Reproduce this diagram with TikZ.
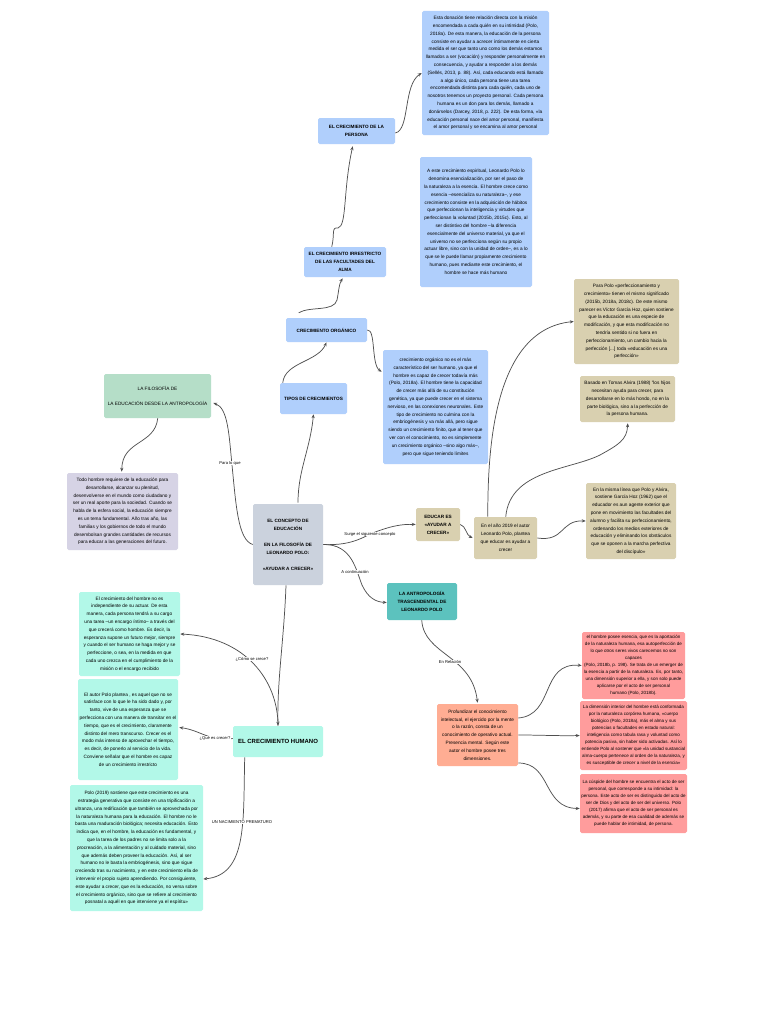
\documentclass[tikz,border=0pt]{standalone}
\usepackage{fontspec}
\setmainfont{Liberation Sans}
\usetikzlibrary{arrows.meta,calc}
\definecolor{cblue}{HTML}{B0CFFC}
\definecolor{ctan}{HTML}{D9D0B0}
\definecolor{cgrey}{HTML}{CBD2DD}
\definecolor{cteal}{HTML}{5CC2BE}
\definecolor{cgreen}{HTML}{B5DEC8}
\definecolor{clilac}{HTML}{D6D3E5}
\definecolor{caqua}{HTML}{B2F8E8}
\definecolor{cred}{HTML}{FF9C9C}
\definecolor{csalmon}{HTML}{FFAD93}
\definecolor{cline}{HTML}{505050}
\tikzset{
  bxbase/.style={rounded corners=1.2pt,inner sep=0pt,align=center,text=black},
  body/.style={bxbase,font=\fontsize{3.55}{5.85}\selectfont},
  redbody/.style={bxbase,fill=cred,font=\fontsize{3.4}{5.3}\selectfont},
  title/.style={bxbase,font=\fontsize{3.5}{6}\bfseries\selectfont},
  conn/.style={draw=cline,line width=0.55pt,-{Stealth[length=3pt,width=2.4pt]}},
  elabel/.style={fill=white,inner xsep=0.6pt,inner ysep=0.4pt,text=black,font=\fontsize{3.1}{4}\selectfont},
}
\newcommand{\bx}[7]{%
  \pgfmathsetlengthmacro{\bw}{(#4-#2)*0.75pt}%
  \pgfmathsetlengthmacro{\bh}{(#5-#3)*0.75pt}%
  \node[#6,minimum width=\bw,minimum height=\bh] (#1) at ({(#2+#4)/2},{(#3+#5)/2}) {#7};%
}
\begin{document}
\begin{tikzpicture}[x=0.75pt,y=-0.75pt]
\useasboundingbox (0,0) rectangle (768,1024);
\fill[white] (0,0) rectangle (768,1024);

\bx{big}{422}{11}{549}{135}{body,fill=cblue}{Esta donación tiene relación directa con la misión\\
encomendada a cada quién en su intimidad (Polo,\\
2018a). De esta manera, la educación de la persona\\
consiste en ayudar a acrecer íntimamente en cierta\\
medida el ser que tanto uno como los demás estamos\\
llamados a ser (vocación) y responder personalmente en\\
consecuencia, y ayudar a responder a los demás\\
(Sellés, 2013, p. 88). Así, cada educando está llamado\\
a algo único, cada persona tiene una tarea\\
encomendada distinta para cada quién, cada uno de\\
nosotros tenemos un proyecto personal. Cada persona\\
humana es un don para los demás, llamado a\\
donárselos (Darcey, 2018, p. 222). De esta forma, «la\\
educación personal nace del amor personal, manifiesta\\
el amor personal y se encamina al amor personal}
\bx{persona}{318}{118}{395}{144}{title,fill=cblue}{EL CRECIMIENTO DE LA\\PERSONA}
\bx{esp}{420}{157}{532}{287}{body,fill=cblue}{A este crecimiento espiritual, Leonardo Polo lo\\
denomina esencialización, por ser el paso de\\
la naturaleza a la esencia. El hombre crece como\\
esencia –esencializa su naturaleza–, y ese\\
crecimiento consiste en la adquisición de hábitos\\
que perfeccionan la inteligencia y virtudes que\\
perfeccionan la voluntad (2015b, 2015c). Esto, al\\
ser distintivo del hombre –la diferencia\\
esencialmente del universo material, ya que el\\
universo no se perfecciona según su propio\\
actuar libre, sino con la unidad de orden–, es a lo\\
que se le puede llamar propiamente crecimiento\\
humano, pues mediante este crecimiento, el\\
hombre se hace más humano}
\bx{alma}{304}{247}{386}{277}{title,fill=cblue}{EL CRECIMIENTO IRRESTRICTO\\DE LAS FACULTADES DEL\\ALMA}
\bx{org}{286}{318}{367}{342}{title,fill=cblue}{CRECIMIENTO ORGÁNICO}
\bx{tipos}{280}{383}{347}{414}{title,fill=cblue}{TIPOS DE CRECIMIENTOS}
\bx{orgtxt}{383}{350}{488}{464}{body,fill=cblue}{crecimiento orgánico no es el más\\
característico del ser humano, ya que el\\
hombre es capaz de crecer todavía más\\
(Polo, 2018a). El hombre tiene la capacidad\\
de crecer más allá de su constitución\\
genética, ya que puede crecer en el sistema\\
nervioso, en las conexiones neuronales. Este\\
tipo de crecimiento no culmina con la\\
embriogénesis y va más allá, pero sigue\\
siendo un crecimiento finito, que al tener que\\
ver con el conocimiento, no es simplemente\\
un crecimiento orgánico –sino algo más–,\\
pero que sigue teniendo límites}
\bx{tanA}{574}{279}{679}{364}{body,fill=ctan}{Para Polo «perfeccionamiento y\\
crecimiento» tienen el mismo significado\\
(2015b, 2018a, 2018c). De este mismo\\
parecer es Víctor García Hoz, quien sostiene\\
que la educación es una especie de\\
modificación, y que esta modificación no\\
tendría sentido si no fuera en\\
perfeccionamiento, un cambio hacia la\\
perfección [...] toda «educación es una\\
perfección»}
\bx{tanB}{580}{376}{675}{422}{body,fill=ctan}{Basado en Tomas Alvira (1988) "los hijos\\
necesitan ayuda para crecer, para\\
desarrollarse en lo más hondo, no en la\\
parte biológica, sino a la perfección de\\
la persona humana.}
\bx{anio}{474}{517}{537}{559}{body,fill=ctan}{En el año 2019 el autor\\
Leonardo Polo, plantea\\
que educar es ayudar a\\
crecer}
\bx{misma}{586}{483}{676}{559}{body,fill=ctan}{En la misma línea que Polo y Alvira,\\
sostiene García Hoz (1962) que el\\
educador es aun agente exterior que\\
pone en movimiento las facultades del\\
alumno y facilita su perfeccionamiento,\\
ordenando los medios exteriores de\\
educación y eliminando los obstáculos\\
que se oponen a la marcha perfectiva\\
del discípulo»}
\bx{educar}{416}{508}{460}{541}{title,fill=ctan}{EDUCAR ES\\«AYUDAR A\\CRECER»}
\bx{antro}{387}{583}{457}{620}{title,fill=cteal}{LA ANTROPOLOGÍA\\TRASCENDENTAL DE\\LEONARDO POLO}
\bx{concepto}{253}{504}{323}{585}{title,fill=cgrey}{EL CONCEPTO DE\\EDUCACIÓN\\[6pt]EN LA FILOSOFÍA DE\\LEONARDO POLO:\\[6pt]«AYUDAR A CRECER»}
\bx{filo}{104}{374}{211}{418}{body,fill=cgreen}{LA FILOSOFÍA DE\\[6pt]LA EDUCACIÓN DESDE LA ANTROPOLOGÍA}
\bx{lilac}{67}{473}{178}{550}{body,fill=clilac}{Todo hombre requiere de la educación para\\
desarrollarse, alcanzar su plenitud,\\
desenvolverse en el mundo como ciudadano y\\
ser un real aporte para la sociedad. Cuando se\\
habla de la esfera social, la educación siempre\\
es un tema fundamental. Año tras año, las\\
familias y los gobiernos de todo el mundo\\
desembolsan grandes cantidades de recursos\\
para educar a las generaciones del futuro.}
\bx{aquaA}{79}{592}{180}{676}{body,fill=caqua}{El crecimiento del hombre no es\\
independiente de su actuar. De esta\\
manera, cada persona tendrá a su cargo\\
una tarea –un encargo íntimo– a través del\\
que crecerá como hombre. Es decir, la\\
esperanza supone un futuro mejor, siempre\\
y cuando el ser humano se haga mejor y se\\
perfeccione, o sea, en la medida en que\\
cada uno crezca en el cumplimiento de la\\
misión o el encargo recibido}
\bx{aquaB}{78}{679}{178}{780}{body,fill=caqua}{El autor Polo plantea , es aquel que no se\\
satisface con lo que le ha sido dado y, por\\
tanto, vive de una esperanza que se\\
perfecciona con una manera de transitar en el\\
tiempo, que es el crecimiento, claramente\\
distinto del mero transcurso. Crecer es el\\
modo más intenso de aprovechar el tiempo,\\
es decir, de ponerlo al servicio de la vida.\\
Conviene señalar que el hombre es capaz\\
de un crecimiento irrestricto}
\bx{aquaC}{70}{785}{203}{911}{body,fill=caqua}{Polo (2019) sostiene que este crecimiento es una\\
estrategia generativa que consiste en una tripificación a\\
ultranza, una redificación que también se aprovechada por\\
la naturaleza humana para la educación. El hombre no le\\
basta una maduración biológica; necesita educación. Esto\\
indica que, en el hombre, la educación es fundamental, y\\
que la tarea de los padres no se limita solo a la\\
procreación, a la alimentación y al cuidado material, sino\\
que además deben proveer la educación. Así, al ser\\
humano no le basta la embriogénesis, sino que sigue\\
creciendo tras su nacimiento, y en este crecimiento ella de\\
intervenir el propio sujeto aprendiendo. Por consiguiente,\\
este ayudar a crecer, que es la educación, no versa sobre\\
el crecimiento orgánico, sino que se refiere al crecimiento\\
posnatal a aquél en que interviene ya el espíritu»}
\bx{human}{233}{726}{323}{757}{title,fill=caqua,font=\fontsize{4.5}{6}\bfseries\selectfont}{EL CRECIMIENTO HUMANO}
\bx{salmon}{437}{704}{518}{766}{body,fill=csalmon}{Profundizar el conocimiento\\
intelectual, el ejercido por la mente\\
o la razón, consta de un\\
conocimiento de operativo actual.\\
Presencia mental. Según este\\
autor el hombre posee tres\\
dimensiones.}
\bx{redA}{582}{632}{685}{699}{redbody}{el hombre posee esencia, que es la aportación\\
de la naturaleza humana, esa autoperfección de\\
lo que otros seres vivos carecemos no son\\
capaces\\
(Polo, 2018b, p. 198). Se trata de un emerger de\\
la esencia a partir de la naturaleza. Es, por tanto,\\
una dimensión superior a ella, y son solo puede\\
aplicarse por el acto de ser personal\\
humano (Polo, 2018b).}
\bx{redB}{580}{701}{687}{770}{redbody}{La dimensión interior del hombre está conformada\\
por la naturaleza corpórea humana, «cuerpo\\
biológico (Polo, 2018a), más el alma y sus\\
potencias o facultades en estado natural:\\
inteligencia como tabula rasa y voluntad como\\
potencia pasiva, sin haber sido activadas. Así lo\\
entiende Polo al sostener que «la unidad sustancial\\
alma-cuerpo pertenece al orden de la naturaleza, y\\
es susceptible de crecer a nivel de la esencia»}
\bx{redC}{580}{774}{687}{833}{redbody}{La cúspide del hombre se encuentra el acto de ser\\
personal, que corresponde a su intimidad: la\\
persona. Este acto de ser es distinguido del acto de\\
ser de Dios y del acto de ser del universo. Polo\\
(2017) afirma que el acto de ser personal es\\
además, y su parte de esa cualidad de además se\\
puede hablar de intimidad, de persona.}

% connectors
\draw[conn] ($(persona.east)+(0,2)$) .. controls (410,130) and (403,85) .. (big.west);
\draw[conn] ($(alma.north west)+(28,0)$) .. controls (335,234) and (331,227) .. (338,228) .. controls (347,226) and (343,190) .. ($(persona.south west)+(35,2)$);
\draw[conn] ($(org.north west)+(13,-5)$) .. controls (310,306) and (334,312) .. (337,300) .. controls (339,290) and (339,284) .. ($(alma.south west)+(39,1)$);
\draw[conn] (org.east) .. controls (376,329) and (371,365) .. ($(orgtxt.north west)+(-1,22)$);
\draw[conn] ($(tipos.north west)+(3,0)$) .. controls (285,362) and (318,362) .. (org.south);
\draw[conn] ($(concepto.north)+(10,-1)$) .. controls (298,470) and (310,450) .. (tipos.south);
\draw[conn] (concepto.west) .. controls (238,540) and (236,505) .. (232,465) .. controls (229,435) and (228,408) .. ($(filo.east)+(2,7)$);
\draw[conn] ($(filo.south west)+(54,0)$) .. controls (155,445) and (122,440) .. ($(lilac.north west)+(55,-1)$);
\draw[conn] (concepto.east) .. controls (355,546) and (365,535) .. (378,531) .. controls (392,526) and (402,524) .. (educar.west);
\draw[conn] (concepto.east) .. controls (352,544) and (356,570) .. (362,585) .. controls (368,598) and (376,602) .. ($(antro.west)+(0,1)$);
\draw[conn] (educar.east) .. controls (466,526) and (466,535) .. ($(anio.west)+(-1,0)$);
\draw[conn] ($(anio.north west)+(14,0)$) .. controls (488,460) and (490,330) .. (tanA.west);
\draw[conn] ($(anio.north west)+(32,0)$) .. controls (510,470) and (570,470) .. (600,455) .. controls (618,445) and (627,440) .. ($(tanB.south west)+(48,1)$);
\draw[conn] (anio.east) .. controls (565,542) and (560,520) .. (misma.west);
\draw[conn] ($(antro.south west)+(35,0)$) .. controls (424,655) and (472,655) .. ($(salmon.north)+(0,-1)$);
\draw[conn] ($(salmon.east)+(0,-17)$) .. controls (555,715) and (540,662) .. (redA.west);
\draw[conn] (salmon.east) .. controls (540,735) and (560,736) .. (redB.west);
\draw[conn] ($(salmon.east)+(0,28)$) .. controls (552,763) and (542,808) .. ($(redC.west)+(0,5)$);
\draw[conn] ($(concepto.south)+(-2,0)$) .. controls (284,640) and (277,680) .. (human.north);
\draw[conn] (human.north) .. controls (278,680) and (245,637) .. (aquaA.east);
\draw[conn] ($(human.west)+(0,-3)$) .. controls (210,742) and (200,730) .. ($(aquaB.east)+(1,-2)$);
\draw[conn] ($(human.south west)+(12,0)$) .. controls (243,820) and (248,875) .. ($(aquaC.east)+(0,31)$);

% edge labels
\node[elabel] (lblA) at (230,463) {Para lo que};
\node[elabel] (lblB) at (370,534) {Surge el siguiente concepto};
\node[elabel] (lblC) at (355,572) {A continuación};
\node[elabel] (lblD) at (450,662) {En Relación};
\node[elabel] (lblE) at (252,659) {¿Cómo se crece?};
\node[elabel] (lblF) at (215,738) {¿Qué es crecer?};
\node[elabel] (lblG) at (242,822) {UN NACIMIENTO PREMATURO};
\end{tikzpicture}
\end{document}
